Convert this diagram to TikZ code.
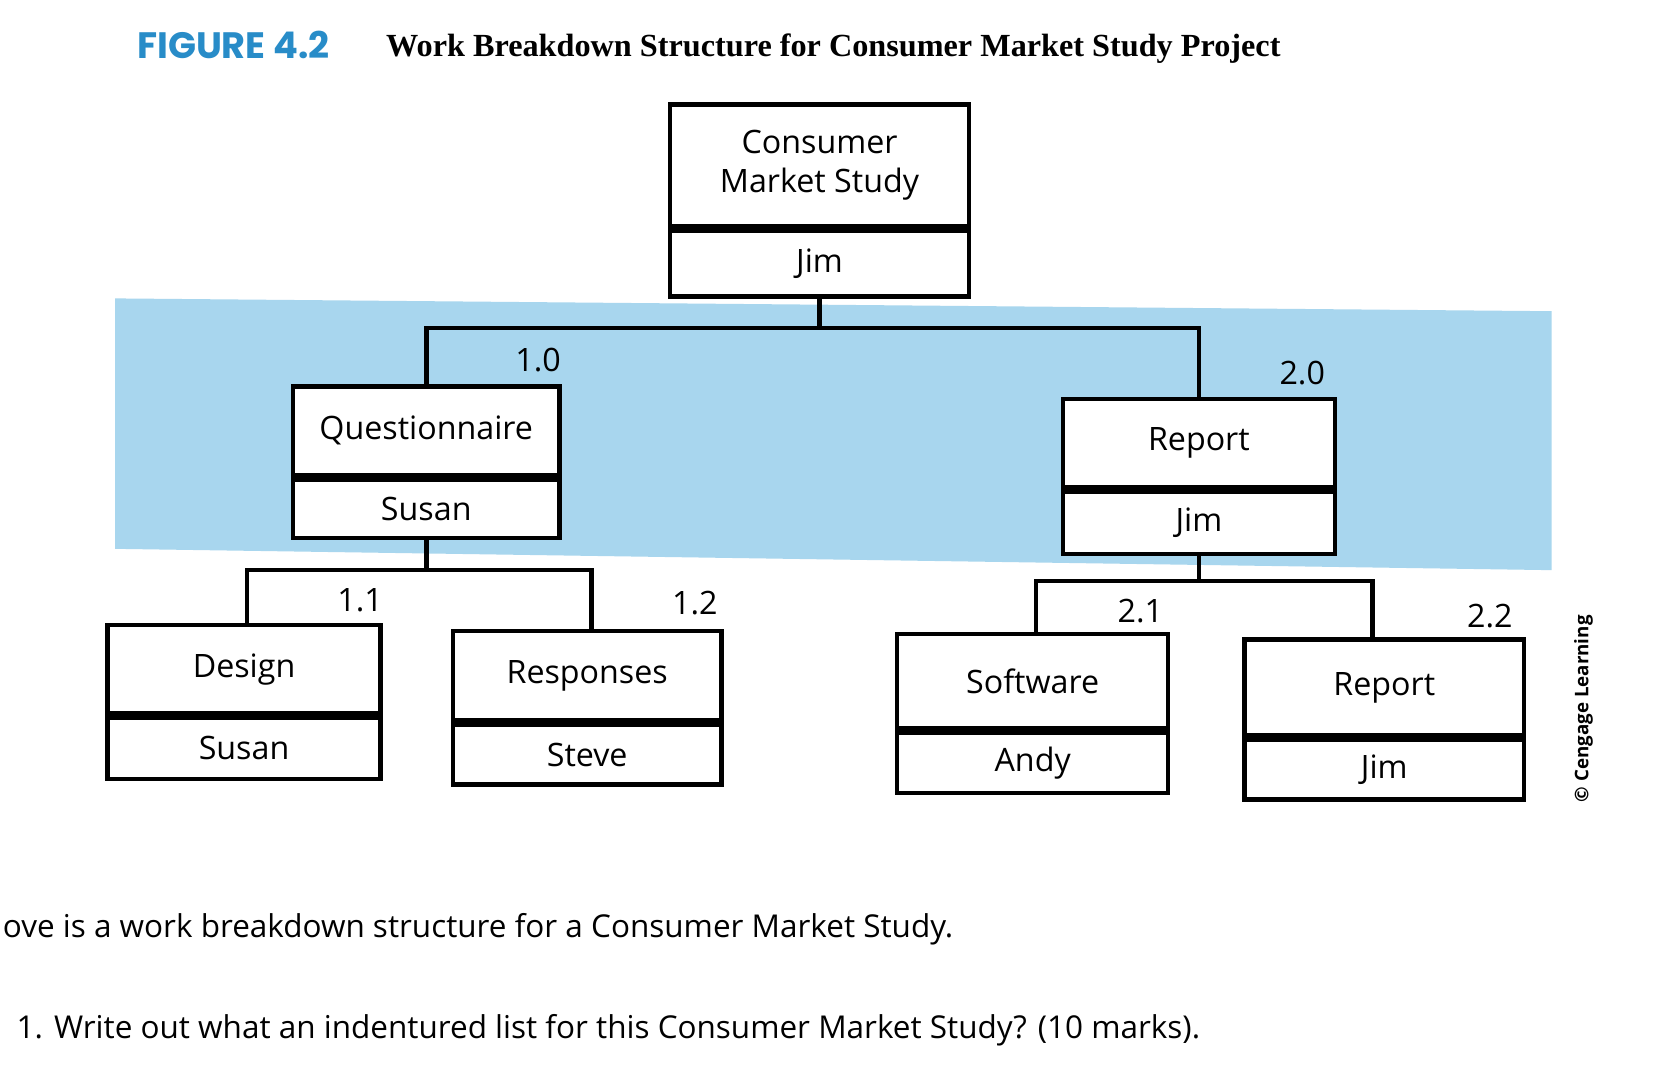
\documentclass[tikz,border=0pt]{standalone}
\usepackage{fontspec}
\setmainfont{Liberation Serif}
\newfontfamily\boxfont{Open Sans}
\newfontfamily\figfont{Poppins}
\definecolor{band}{RGB}{168,214,238}
\definecolor{figblue}{RGB}{40,140,200}
\begin{document}
\begin{tikzpicture}[x=0.01cm,y=-0.01cm,
  cell/.style={draw,fill=white,line width=1.2pt,inner sep=0pt,font=\boxfont\fontsize{8.6pt}{10.5pt}\selectfont,align=center},
  num/.style={font=\boxfont\fontsize{8.6pt}{10pt}\selectfont},
  conn/.style={line width=1.2pt}]
\useasboundingbox[fill=white] (0,0) rectangle (1568,1005);
\fill[band] (108,280) -- (1456,292) -- (1456,535) -- (108,515) -- cycle;
\node[font=\figfont\bfseries\fontsize{9.8pt}{11pt}\selectfont,text=figblue,anchor=west,inner sep=0pt] (fig) at (128,42) {FIGURE 4.2};
\node[font=\bfseries\fontsize{8.6pt}{10pt}\selectfont,anchor=west] (title) at (350,46) {Work Breakdown Structure for Consumer Market Study Project};
% top
\node[cell,minimum width=2.8cm,minimum height=1.14cm] (t) at (769,155) {Consumer\\Market Study};
\node[cell,minimum width=2.8cm,minimum height=0.62cm,anchor=north] (tj) at (t.south) {Jim};
% level 1
\node[cell,minimum width=2.5cm,minimum height=0.83cm] (q) at (400,404) {Questionnaire};
\node[cell,minimum width=2.5cm,minimum height=0.55cm,anchor=north] (qs) at (q.south) {Susan};
\node[cell,minimum width=2.55cm,minimum height=0.83cm] (r) at (1125,416) {Report};
\node[cell,minimum width=2.55cm,minimum height=0.58cm,anchor=north] (rj) at (r.south) {Jim};
% level 2
\node[cell,minimum width=2.56cm,minimum height=0.83cm] (d) at (229,628) {Design};
\node[cell,minimum width=2.56cm,minimum height=0.57cm,anchor=north] (ds) at (d.south) {Susan};
\node[cell,minimum width=2.52cm,minimum height=0.84cm] (re) at (551,634) {Responses};
\node[cell,minimum width=2.52cm,minimum height=0.56cm,anchor=north] (rs) at (re.south) {Steve};
\node[cell,minimum width=2.54cm,minimum height=0.88cm] (s) at (969,639) {Software};
\node[cell,minimum width=2.54cm,minimum height=0.57cm,anchor=north] (sa) at (s.south) {Andy};
\node[cell,minimum width=2.62cm,minimum height=0.9cm] (r2) at (1299,645) {Report};
\node[cell,minimum width=2.62cm,minimum height=0.56cm,anchor=north] (r2j) at (r2.south) {Jim};
% connectors
\coordinate (h1) at (769,308);
\draw[conn] (tj.south) -- (h1);
\draw[conn] (q.north) |- (h1) -| (r.north);
\coordinate (h2) at (400,535);
\draw[conn] (qs.south) -- (h2);
\draw[conn] (d.north -| 232,0) |- (h2) -| (re.north -| 555,0);
\coordinate (h3) at (1125,545);
\draw[conn] (rj.south) -- (h3);
\draw[conn] (s.north -| 972,0) |- (h3) -| (r2.north -| 1288,0);
% numbers
\node[num] (n10) at (505,338) {1.0};
\node[num] (n20) at (1222,350) {2.0};
\node[num] (n11) at (338,563) {1.1};
\node[num] (n12) at (652,566) {1.2};
\node[num] (n21) at (1070,573) {2.1};
\node[num] (n22) at (1398,578) {2.2};
\node[font=\boxfont\bfseries\fontsize{5pt}{6pt}\selectfont,rotate=90] (cl) at (1486,665) {© Cengage Learning};
% bottom text
\node[font=\boxfont\fontsize{8.4pt}{10pt}\selectfont,anchor=west,inner sep=0pt] (b1) at (2,872) {ove is a work breakdown structure for a Consumer Market Study.};
\node[font=\boxfont\fontsize{8.4pt}{10pt}\selectfont,anchor=west,inner sep=0pt] (b2) at (15,967) {1. Write out what an indentured list for this Consumer Market Study? (10 marks).};
\end{tikzpicture}
\end{document}
